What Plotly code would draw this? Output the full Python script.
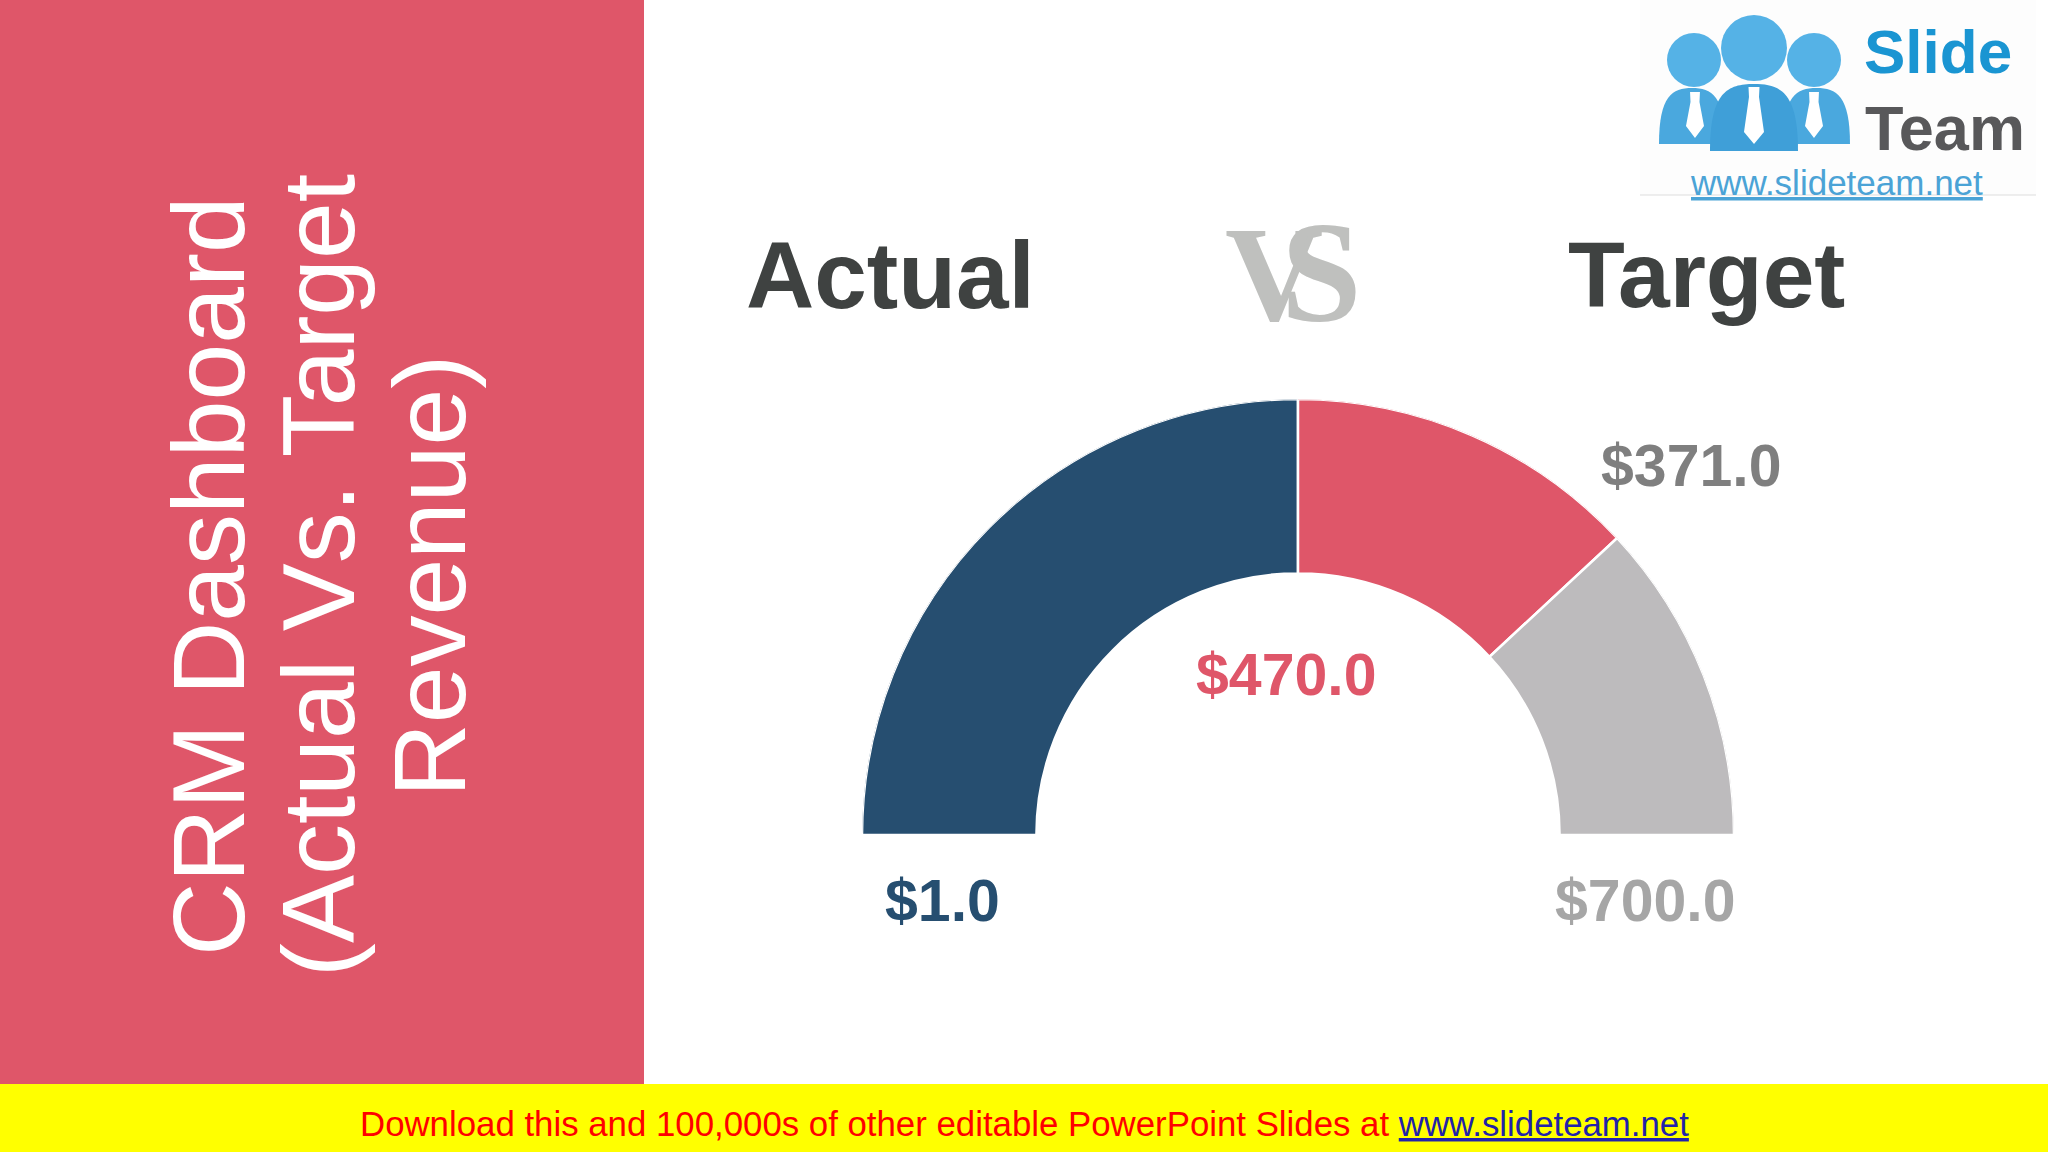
import plotly.graph_objects as go

W = 2048
H = 1152

# gauge values, half circle = 700
gauge_names = ["Low", "Actual", "Rest"]
gauge_values = [350, 183, 167]
gauge_total = 700
gauge_colors = ["#264E70", "#DF5669", "#BDBBBD"]

value_labels = ["$1.0", "$470.0", "$371.0", "$700.0"]
value_colors = ["#264E70", "#DF5669", "#7F7F7F", "#A6A6A6"]
value_x = [942, 1286, 1691, 1645]
value_y = [901, 675, 466, 901]

title_lines = ["CRM Dashboard", "(Actual Vs. Target", "Revenue)"]
title_x = [209, 319, 430]

FONT = "Liberation Sans"
HOLE = 0.60


def px_x(x):
    return x / W


def px_y(y):
    return 1 - y / H


def text(x, y, s, size, color, bold=False, angle=0, family=FONT):
    if bold:
        s = "<b>" + s + "</b>"
    return dict(
        x=px_x(x), y=px_y(y), xref="paper", yref="paper", text=s, textangle=angle,
        showarrow=False, xanchor="center", yanchor="middle",
        font=dict(family=family, size=size, color=color),
    )


def rect(x0, y0, x1, y1, color):
    return dict(type="rect", xref="paper", yref="paper", x0=px_x(x0), x1=px_x(x1),
                y0=px_y(y1), y1=px_y(y0), fillcolor=color, line=dict(width=0), layer="below")


def circle(cx, cy, r, color):
    return dict(type="circle", xref="paper", yref="paper", x0=px_x(cx - r), x1=px_x(cx + r),
                y0=px_y(cy + r), y1=px_y(cy - r), fillcolor=color, line=dict(width=0))


def poly(points, color):
    path = "M " + " L ".join(f"{px_x(x):.5f},{px_y(y):.5f}" for x, y in points) + " Z"
    return dict(type="path", xref="paper", yref="paper", path=path, fillcolor=color, line=dict(width=0))


def body(x0, x1, top, bottom, color):
    mid = (x0 + x1) / 2
    half = (x1 - x0) / 2
    path = (f"M {px_x(x0):.5f},{px_y(bottom):.5f} "
            f"C {px_x(x0):.5f},{px_y(top + 8):.5f} {px_x(mid - half * 0.6):.5f},{px_y(top):.5f} {px_x(mid):.5f},{px_y(top):.5f} "
            f"C {px_x(mid + half * 0.6):.5f},{px_y(top):.5f} {px_x(x1):.5f},{px_y(top + 8):.5f} {px_x(x1):.5f},{px_y(bottom):.5f} Z")
    return dict(type="path", xref="paper", yref="paper", path=path, fillcolor=color, line=dict(width=0))


def tie(cx, top, bottom, w, color="#FFFFFF"):
    return poly([(cx - w * 0.55, top), (cx + w * 0.55, top), (cx + w * 0.5, top + 10), (cx + w, bottom - 12),
                 (cx, bottom), (cx - w, bottom - 12), (cx - w * 0.5, top + 10)], color)


# convert values to angles along the half circle
widths = [v / gauge_total * 180 for v in gauge_values]
thetas = []
pos = 0
for w in widths:
    thetas.append(pos + w / 2)
    pos += w

fig = go.Figure()
fig.add_trace(go.Barpolar(
    theta=thetas,
    width=widths,
    r=[1 - HOLE] * len(gauge_values),
    base=[HOLE] * len(gauge_values),
    text=gauge_names,
    marker=dict(color=gauge_colors, line=dict(color="#FFFFFF", width=2.5)),
    hoverinfo="text",
))

shapes = [
    rect(0, 0, 644, 1084, "#DF5669"),
    rect(0, 1084, W, H, "#FFFF00"),
    rect(1640, 0, 2036, 195, "#FDFDFD"),
    # logo
    dict(type="line", xref="paper", yref="paper", x0=px_x(1640), x1=px_x(2036), y0=px_y(195), y1=px_y(195),
         line=dict(color="#DDDDDD", width=1)),
    body(1659, 1725, 88, 144, "#4AA8DE"),
    body(1783, 1850, 88, 144, "#4AA8DE"),
    circle(1694, 60, 27, "#55B2E6"),
    circle(1814, 60, 27, "#55B2E6"),
    tie(1695, 92, 138, 9),
    tie(1814, 92, 138, 9),
    body(1710, 1798, 84, 151, "#3F9FD8"),
    circle(1754, 48, 33, "#55B2E6"),
    tie(1754, 87, 144, 10),
]

annotations = []
for line, x in zip(title_lines, title_x):
    annotations.append(text(x, 576, line, 102, "#FFFFFF", angle=-90))
annotations.append(text(890, 275, "Actual", 94.5, "#3F4241", bold=True))
annotations.append(text(1706, 275, "Target", 93, "#3F4241", bold=True))
annotations.append(text(1274, 274, "V", 136, "#BFC0BE", bold=True, family="Liberation Serif"))
annotations.append(text(1321, 272, "S", 145, "#BFC0BE", bold=True, family="Liberation Serif"))
for label, color, x, y in zip(value_labels, value_colors, value_x, value_y):
    annotations.append(text(x, y, label, 59, color, bold=True))
annotations.append(text(1938, 51, "Slide", 62, "#1A95D2", bold=True))
annotations.append(text(1945, 128, "Team", 63, "#58585A", bold=True))
annotations.append(text(1836, 183, "<u>www.slideteam.net</u>", 35, "#4BA3D6"))
annotations.append(dict(
    x=px_x(1024), y=px_y(1123), xref="paper", yref="paper", showarrow=False,
    xanchor="center", yanchor="middle",
    text='Download this and 100,000s of other editable PowerPoint Slides at '
         '<span style="color:#2222AA"><u>www.slideteam.net</u></span>',
    font=dict(family=FONT, size=34.8, color="#FF0000"),
))

fig.update_layout(
    width=W,
    height=H,
    margin=dict(l=0, r=0, t=0, b=0),
    paper_bgcolor="#FFFFFF",
    showlegend=False,
    shapes=shapes,
    annotations=annotations,
    polar=dict(
        domain=dict(x=[px_x(862), px_x(1734)], y=[px_y(835), px_y(399)]),
        sector=[0, 180],
        bgcolor="rgba(0,0,0,0)",
        radialaxis=dict(visible=False, range=[0, 1]),
        angularaxis=dict(visible=False, direction="clockwise", rotation=180, thetaunit="degrees"),
    ),
)

# page has a default body margin, drop it so the figure fills the window
fig.write_html(
    "out.html",
    config={"displayModeBar": False},
    post_script="document.body.style.margin='0';document.body.style.overflow='hidden';",
)
